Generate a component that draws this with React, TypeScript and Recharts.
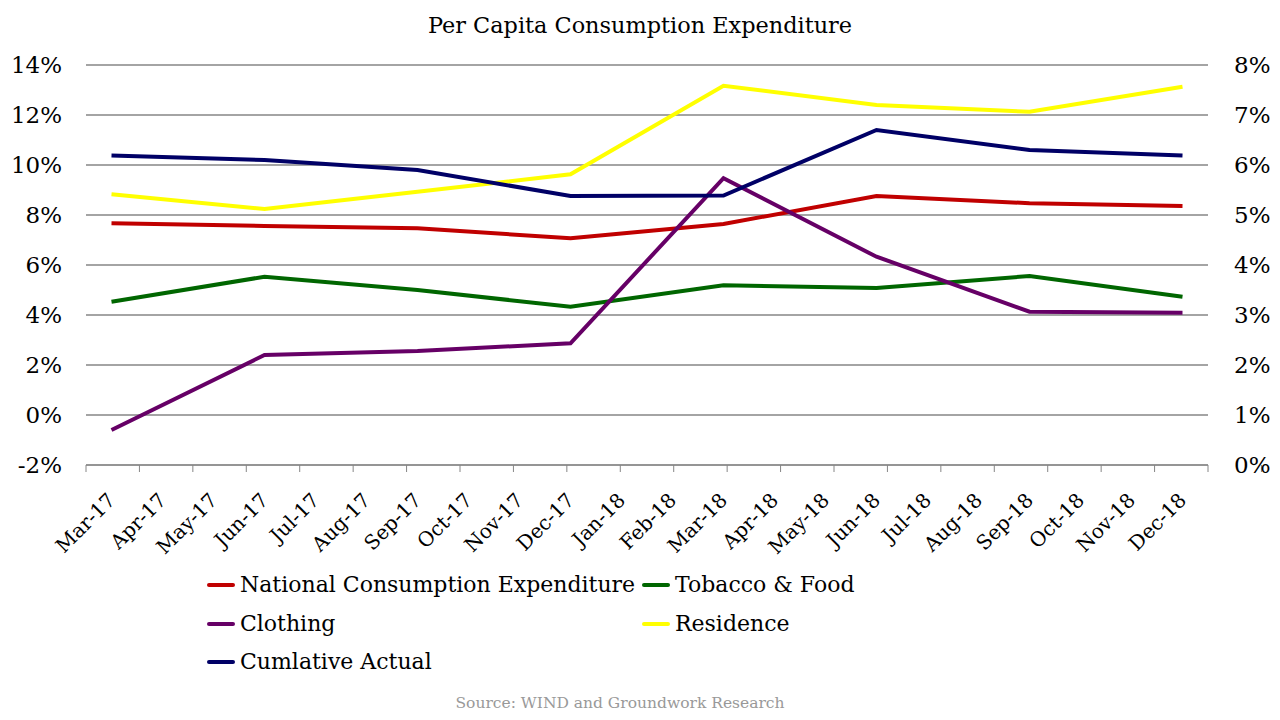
import React from "react";
import {
  LineChart,
  Line,
  XAxis,
  YAxis,
  CartesianGrid,
} from "recharts";

const months = [
  "Mar-17", "Apr-17", "May-17", "Jun-17", "Jul-17", "Aug-17", "Sep-17", "Oct-17",
  "Nov-17", "Dec-17", "Jan-18", "Feb-18", "Mar-18", "Apr-18", "May-18", "Jun-18",
  "Jul-18", "Aug-18", "Sep-18", "Oct-18", "Nov-18", "Dec-18",
];

// quarterly readings only, the months between are empty
const nationalExp = [7.67, null, null, 7.56, null, null, 7.47, null, null, 7.07, null, null, 7.64, null, null, 8.76, null, null, 8.47, null, null, 8.36];
const tobaccoFood = [4.53, null, null, 5.53, null, null, 5.0, null, null, 4.33, null, null, 5.19, null, null, 5.08, null, null, 5.56, null, null, 4.73];
const clothing = [-0.6, null, null, 2.4, null, null, 2.56, null, null, 2.87, null, null, 9.47, null, null, 6.33, null, null, 4.13, null, null, 4.09];
const residence = [8.83, null, null, 8.24, null, null, 8.93, null, null, 9.63, null, null, 13.17, null, null, 12.4, null, null, 12.13, null, null, 13.13];
const cumulativeActual = [6.19, null, null, 6.1, null, null, 5.9, null, null, 5.38, null, null, 5.39, null, null, 6.7, null, null, 6.3, null, null, 6.19];

const leftTicks = [-2, 0, 2, 4, 6, 8, 10, 12, 14];
const rightTicks = [0, 1, 2, 3, 4, 5, 6, 7, 8];

const series = [
  { key: "nce", name: "National Consumption Expenditure", color: "#C00000", values: nationalExp, axis: "left" },
  { key: "tf", name: "Tobacco & Food", color: "#006600", values: tobaccoFood, axis: "left" },
  { key: "cl", name: "Clothing", color: "#660066", values: clothing, axis: "left" },
  { key: "res", name: "Residence", color: "#FFFF00", values: residence, axis: "left" },
  { key: "cum", name: "Cumlative Actual", color: "#000066", values: cumulativeActual, axis: "right" },
];

const data = months.map((m, i) => {
  const row: Record<string, any> = { month: m };
  series.forEach((s) => {
    row[s.key] = s.values[i];
  });
  return row;
});

const edgeTicks = months.map((_, i) => i).concat(months.length);

const font = "'DejaVu Serif', serif";

function MonthTick(props: any) {
  const { x, y, payload } = props;
  return (
    <g transform={`translate(${x},${y})`}>
      <text
        x={-11}
        y={18}
        textAnchor="end"
        transform="rotate(-45)"
        fontFamily={font}
        fontSize={20}
        fill="#000"
      >
        {payload.value}
      </text>
    </g>
  );
}

export default function App() {
  return (
    <div
      style={{
        position: "absolute",
        left: 0,
        top: 0,
        width: 1280,
        height: 720,
        background: "#fff",
        fontFamily: font,
      }}
    >
      <div
        style={{
          position: "absolute",
          top: 12,
          width: 1280,
          textAlign: "center",
          fontSize: 22.4,
        }}
      >
        Per Capita Consumption Expenditure
      </div>
      <LineChart
        width={1280}
        height={720}
        data={data}
        margin={{ top: 65, right: 0, bottom: 165, left: 0 }}
      >
        <CartesianGrid
          vertical={false}
          xAxisId="m"
          yAxisId="left"
          stroke="#868686"
          strokeWidth={1.3}
        />
        <XAxis
          xAxisId="edge"
          type="number"
          domain={[0, months.length]}
          ticks={edgeTicks}
          tickFormatter={() => ""}
          height={8}
          stroke="#868686"
          tickSize={7}
          allowDataOverflow
        />
        <XAxis
          xAxisId="m"
          dataKey="month"
          scale="band"
          interval={0}
          axisLine={false}
          tickLine={false}
          height={82}
          tick={<MonthTick />}
        />
        <YAxis
          yAxisId="left"
          domain={[-2, 14]}
          ticks={leftTicks}
          width={86}
          axisLine={false}
          tickLine={false}
          tickSize={0}
          tickMargin={24}
          tickFormatter={(v) => `${v}%`}
          tick={{ fontSize: 23, fill: "#000", fontFamily: font }}
        />
        <YAxis
          yAxisId="right"
          orientation="right"
          domain={[0, 8]}
          ticks={rightTicks}
          width={72}
          axisLine={false}
          tickLine={false}
          tickSize={0}
          tickMargin={26}
          tickFormatter={(v) => `${v}%`}
          tick={{ fontSize: 23, fill: "#000", fontFamily: font }}
        />
        {series.map((s) => (
          <Line
            key={s.key}
            xAxisId="m"
            yAxisId={s.axis}
            dataKey={s.key}
            name={s.name}
            stroke={s.color}
            strokeWidth={4}
            dot={false}
            connectNulls
            type="linear"
            isAnimationActive={false}
          />
        ))}
      </LineChart>
      <div
        style={{
          position: "absolute",
          left: 207,
          top: 571,
          display: "grid",
          gridTemplateColumns: "435px 300px",
          rowGap: 10.5,
          fontSize: 22,
          lineHeight: "28px",
        }}
      >
        {series.map((s) => (
          <div key={s.key} style={{ display: "flex", alignItems: "center" }}>
            <span
              style={{
                display: "inline-block",
                width: 28,
                height: 4,
                borderRadius: 2,
                background: s.color,
                marginRight: 5,
              }}
            />
            <span>{s.name}</span>
          </div>
        ))}
      </div>
      <div
        style={{
          position: "absolute",
          top: 694,
          left: 0,
          width: 1240,
          textAlign: "center",
          fontSize: 15.5,
          color: "#999",
        }}
      >
        Source: WIND and Groundwork Research
      </div>
    </div>
  );
}
